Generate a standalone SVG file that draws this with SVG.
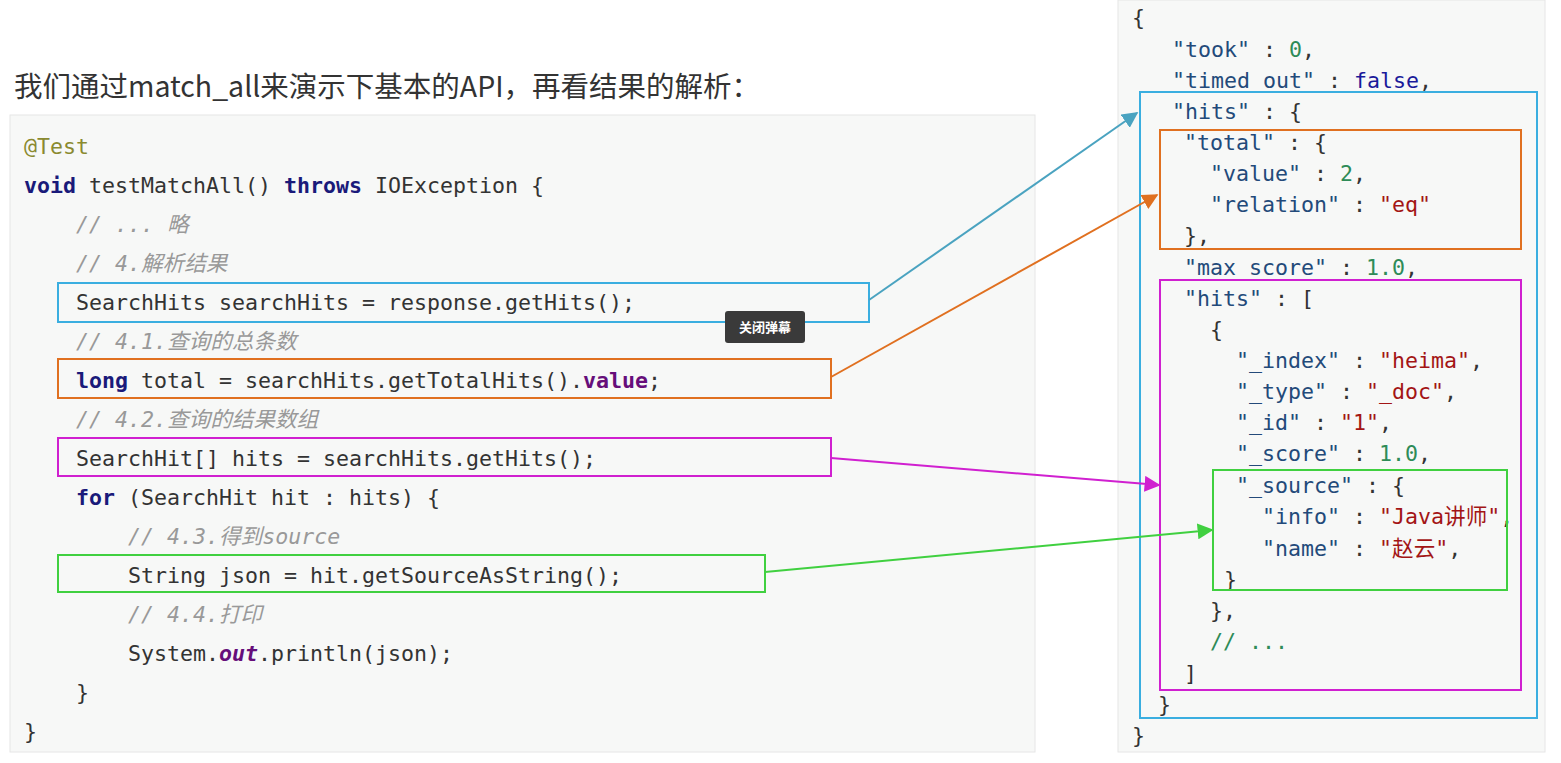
<svg xmlns="http://www.w3.org/2000/svg" width="1561" height="763" viewBox="0 0 1561 763">
<style>
.c{font-family:"DejaVu Sans Mono","Liberation Mono","Noto Sans CJK SC",monospace;font-size:21.6px;fill:#333}
.k{fill:#1a1a7a;font-weight:bold}
.cm{fill:#999;font-style:italic}
.an{fill:#8a8a30}
.s{fill:#a31515}
.n{fill:#2e8b57}
.b{fill:#1a1a9a}
.kk{fill:#234a7a}
.box{fill:none;stroke-width:2}
</style>
<defs>
<marker id="ab" viewBox="0 0 10 10" refX="9" refY="5" markerWidth="8" markerHeight="8" orient="auto-start-reverse"><path d="M0,0L10,5L0,10z" fill="#4aa3c0"/></marker>
<marker id="ao" viewBox="0 0 10 10" refX="9" refY="5" markerWidth="8" markerHeight="8" orient="auto-start-reverse"><path d="M0,0L10,5L0,10z" fill="#e07020"/></marker>
<marker id="am" viewBox="0 0 10 10" refX="9" refY="5" markerWidth="8" markerHeight="8" orient="auto-start-reverse"><path d="M0,0L10,5L0,10z" fill="#d020d0"/></marker>
<marker id="ag" viewBox="0 0 10 10" refX="9" refY="5" markerWidth="8" markerHeight="8" orient="auto-start-reverse"><path d="M0,0L10,5L0,10z" fill="#40d040"/></marker>
</defs>
<rect width="1561" height="763" fill="#fff"/>
<text x="14" y="97" font-family="'Noto Sans CJK SC',sans-serif" font-size="28.5" fill="#333">我们通过match_all来演示下基本的API，再看结果的解析：</text>
<g id="code">
<rect x="10" y="115" width="1025" height="637" fill="#f7f8f7" stroke="#e6e6e6"/>
<text class="c an" x="24" y="154">@Test</text>
<text class="c" x="24" y="193"><tspan class="k">void</tspan> testMatchAll() <tspan class="k">throws</tspan> IOException {</text>
<text class="c cm" x="76" y="232">// ... 略</text>
<text class="c cm" x="76" y="271">// 4.解析结果</text>
<text class="c" x="76" y="310">SearchHits searchHits = response.getHits();</text>
<text class="c cm" x="76" y="349">// 4.1.查询的总条数</text>
<text class="c" x="76" y="388"><tspan class="k">long</tspan> total = searchHits.getTotalHits().<tspan style="fill:#660e7a;font-weight:bold">value</tspan>;</text>
<text class="c cm" x="76" y="427">// 4.2.查询的结果数组</text>
<text class="c" x="76" y="466">SearchHit[] hits = searchHits.getHits();</text>
<text class="c" x="76" y="505"><tspan class="k">for</tspan> (SearchHit hit : hits) {</text>
<text class="c cm" x="128" y="544">// 4.3.得到source</text>
<text class="c" x="128" y="583">String json = hit.getSourceAsString();</text>
<text class="c cm" x="128" y="622">// 4.4.打印</text>
<text class="c" x="128" y="661">System.<tspan style="fill:#660e7a;font-weight:bold;font-style:italic">out</tspan>.println(json);</text>
<text class="c" x="76" y="700">}</text>
<text class="c" x="24" y="739">}</text>
<rect class="box" x="58" y="283" width="811" height="39" stroke="#3aaee0"/>
<rect class="box" x="58" y="359" width="773" height="39" stroke="#e07020"/>
<rect class="box" x="58" y="438" width="773" height="38" stroke="#d020d0"/>
<rect class="box" x="58" y="555" width="707" height="37" stroke="#40d040"/>
</g>
<g id="json">
<rect x="1118" y="0" width="427" height="752" fill="#f7f8f7" stroke="#e6e6e6"/>
<text class="c" x="1132" y="25">{</text>
<text class="c" x="1172" y="57"><tspan class="kk">"took"</tspan> : <tspan class="n">0</tspan>,</text>
<text class="c" x="1172" y="88"><tspan class="kk">"timed_out"</tspan> : <tspan class="b">false</tspan>,</text>
<text class="c" x="1172" y="119"><tspan class="kk">"hits"</tspan> : {</text>
<text class="c" x="1184" y="150"><tspan class="kk">"total"</tspan> : {</text>
<text class="c" x="1210" y="181"><tspan class="kk">"value"</tspan> : <tspan class="n">2</tspan>,</text>
<text class="c" x="1210" y="212"><tspan class="kk">"relation"</tspan> : <tspan class="s">"eq"</tspan></text>
<text class="c" x="1184" y="243">},</text>
<text class="c" x="1184" y="275"><tspan class="kk">"max_score"</tspan> : <tspan class="n">1.0</tspan>,</text>
<text class="c" x="1184" y="306"><tspan class="kk">"hits"</tspan> : [</text>
<text class="c" x="1210" y="337">{</text>
<text class="c" x="1236" y="368"><tspan class="kk">"_index"</tspan> : <tspan class="s">"heima"</tspan>,</text>
<text class="c" x="1236" y="399"><tspan class="kk">"_type"</tspan> : <tspan class="s">"_doc"</tspan>,</text>
<text class="c" x="1236" y="430"><tspan class="kk">"_id"</tspan> : <tspan class="s">"1"</tspan>,</text>
<text class="c" x="1236" y="461"><tspan class="kk">"_score"</tspan> : <tspan class="n">1.0</tspan>,</text>
<text class="c" x="1236" y="493"><tspan class="kk">"_source"</tspan> : {</text>
<text class="c" x="1262" y="524"><tspan class="kk">"info"</tspan> : <tspan class="s">"Java讲师"</tspan>,</text>
<text class="c" x="1262" y="556"><tspan class="kk">"name"</tspan> : <tspan class="s">"赵云"</tspan>,</text>
<text class="c" x="1224" y="587">}</text>
<text class="c" x="1210" y="618">},</text>
<text class="c" x="1210" y="649" style="fill:#2e8b57">// ...</text>
<text class="c" x="1184" y="681">]</text>
<text class="c" x="1158" y="712">}</text>
<text class="c" x="1132" y="743">}</text>
<rect class="box" x="1140" y="92" width="397" height="626" stroke="#3aaee0"/>
<rect class="box" x="1160" y="130" width="361" height="119" stroke="#e07020"/>
<rect class="box" x="1160" y="280" width="361" height="410" stroke="#d020d0"/>
<rect class="box" x="1213" y="470" width="294" height="120" stroke="#40d040"/>
</g>
<g id="connectors" stroke-width="2" fill="none">
<line x1="869" y1="300" x2="1137" y2="113" stroke="#4aa3c0" marker-end="url(#ab)"/>
<line x1="831" y1="377" x2="1157" y2="195" stroke="#e07020" marker-end="url(#ao)"/>
<line x1="831" y1="458" x2="1159" y2="485" stroke="#d020d0" marker-end="url(#am)"/>
<line x1="765" y1="572" x2="1212" y2="530" stroke="#40d040" marker-end="url(#ag)"/>
</g>
<g id="tooltip">
<rect x="725" y="311" width="80" height="32" rx="3" fill="#3a3a3a"/>
<text x="765" y="332" text-anchor="middle" font-family="'Noto Sans CJK SC',sans-serif" font-size="13" font-weight="bold" fill="#fff">关闭弹幕</text>
</g>
</svg>
